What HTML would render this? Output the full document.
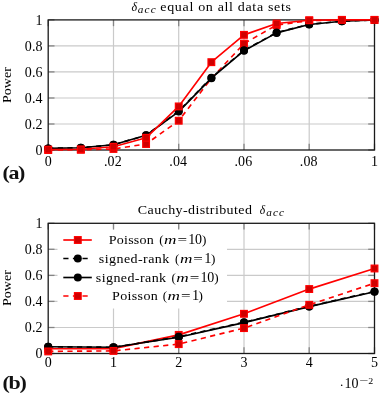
<!DOCTYPE html>
<html><head><meta charset="utf-8"><title>Power plots</title>
<style>
html,body{margin:0;padding:0;background:#fff;}
svg{display:block;}
.t{font-family:"Liberation Serif","DejaVu Serif",serif;font-size:13px;fill:#000;}
.i{font-style:italic;}
.n{font-size:14px;}
.s{font-size:10.4px;}
.e{font-size:9.2px;}
.b{font-family:"Liberation Serif","DejaVu Serif",serif;font-size:18.6px;font-weight:bold;fill:#111;}
</style></head><body>
<svg width="380" height="401" viewBox="0 0 380 401">
<rect width="380" height="401" fill="#fff"/>
<line x1="113.5" y1="19.9" x2="113.5" y2="150.0" stroke="#cacaca" stroke-width="1.2"/><line x1="178.7" y1="19.9" x2="178.7" y2="150.0" stroke="#cacaca" stroke-width="1.2"/><line x1="244.0" y1="19.9" x2="244.0" y2="150.0" stroke="#cacaca" stroke-width="1.2"/><line x1="309.2" y1="19.9" x2="309.2" y2="150.0" stroke="#cacaca" stroke-width="1.2"/><line x1="48.2" y1="124.0" x2="374.5" y2="124.0" stroke="#cacaca" stroke-width="1.2"/><line x1="48.2" y1="98.0" x2="374.5" y2="98.0" stroke="#cacaca" stroke-width="1.2"/><line x1="48.2" y1="71.9" x2="374.5" y2="71.9" stroke="#cacaca" stroke-width="1.2"/><line x1="48.2" y1="45.9" x2="374.5" y2="45.9" stroke="#cacaca" stroke-width="1.2"/>
<line x1="48.2" y1="19.9" x2="48.2" y2="26.2" stroke="#858585" stroke-width="1.3"/><line x1="48.2" y1="150.0" x2="48.2" y2="143.7" stroke="#858585" stroke-width="1.3"/><line x1="113.5" y1="19.9" x2="113.5" y2="26.2" stroke="#858585" stroke-width="1.3"/><line x1="113.5" y1="150.0" x2="113.5" y2="143.7" stroke="#858585" stroke-width="1.3"/><line x1="178.7" y1="19.9" x2="178.7" y2="26.2" stroke="#858585" stroke-width="1.3"/><line x1="178.7" y1="150.0" x2="178.7" y2="143.7" stroke="#858585" stroke-width="1.3"/><line x1="244.0" y1="19.9" x2="244.0" y2="26.2" stroke="#858585" stroke-width="1.3"/><line x1="244.0" y1="150.0" x2="244.0" y2="143.7" stroke="#858585" stroke-width="1.3"/><line x1="309.2" y1="19.9" x2="309.2" y2="26.2" stroke="#858585" stroke-width="1.3"/><line x1="309.2" y1="150.0" x2="309.2" y2="143.7" stroke="#858585" stroke-width="1.3"/><line x1="374.5" y1="19.9" x2="374.5" y2="26.2" stroke="#858585" stroke-width="1.3"/><line x1="374.5" y1="150.0" x2="374.5" y2="143.7" stroke="#858585" stroke-width="1.3"/><line x1="48.2" y1="150.0" x2="54.5" y2="150.0" stroke="#858585" stroke-width="1.3"/><line x1="374.5" y1="150.0" x2="368.2" y2="150.0" stroke="#858585" stroke-width="1.3"/><line x1="48.2" y1="124.0" x2="54.5" y2="124.0" stroke="#858585" stroke-width="1.3"/><line x1="374.5" y1="124.0" x2="368.2" y2="124.0" stroke="#858585" stroke-width="1.3"/><line x1="48.2" y1="98.0" x2="54.5" y2="98.0" stroke="#858585" stroke-width="1.3"/><line x1="374.5" y1="98.0" x2="368.2" y2="98.0" stroke="#858585" stroke-width="1.3"/><line x1="48.2" y1="71.9" x2="54.5" y2="71.9" stroke="#858585" stroke-width="1.3"/><line x1="374.5" y1="71.9" x2="368.2" y2="71.9" stroke="#858585" stroke-width="1.3"/><line x1="48.2" y1="45.9" x2="54.5" y2="45.9" stroke="#858585" stroke-width="1.3"/><line x1="374.5" y1="45.9" x2="368.2" y2="45.9" stroke="#858585" stroke-width="1.3"/><line x1="48.2" y1="19.9" x2="54.5" y2="19.9" stroke="#858585" stroke-width="1.3"/><line x1="374.5" y1="19.9" x2="368.2" y2="19.9" stroke="#858585" stroke-width="1.3"/>
<rect x="48.2" y="19.9" width="326.3" height="130.1" fill="none" stroke="#1a1a1a" stroke-width="1.3"/>
<path d="M48.2,150.0 L80.8,149.7 L113.5,149.0 L146.1,144.0 L178.7,120.7 L211.4,78.4 L244.0,43.6 L276.6,25.1 L309.2,20.6 L341.9,19.9 L374.5,19.9" fill="none" stroke="#ff0000" stroke-width="1.65" stroke-linejoin="round" stroke-dasharray="5.2 4.4"/>
<rect x="44.85" y="146.65" width="6.7" height="6.7" fill="#cf0000" stroke="#ff0000" stroke-width="1.2"/><rect x="77.48" y="146.39" width="6.7" height="6.7" fill="#cf0000" stroke="#ff0000" stroke-width="1.2"/><rect x="110.11" y="145.61" width="6.7" height="6.7" fill="#cf0000" stroke="#ff0000" stroke-width="1.2"/><rect x="142.74" y="140.67" width="6.7" height="6.7" fill="#cf0000" stroke="#ff0000" stroke-width="1.2"/><rect x="175.37" y="117.38" width="6.7" height="6.7" fill="#cf0000" stroke="#ff0000" stroke-width="1.2"/><rect x="240.63" y="40.23" width="6.7" height="6.7" fill="#cf0000" stroke="#ff0000" stroke-width="1.2"/><rect x="273.26" y="21.75" width="6.7" height="6.7" fill="#cf0000" stroke="#ff0000" stroke-width="1.2"/><rect x="305.89" y="17.20" width="6.7" height="6.7" fill="#cf0000" stroke="#ff0000" stroke-width="1.2"/><rect x="338.52" y="16.55" width="6.7" height="6.7" fill="#cf0000" stroke="#ff0000" stroke-width="1.2"/><rect x="371.15" y="16.55" width="6.7" height="6.7" fill="#cf0000" stroke="#ff0000" stroke-width="1.2"/>
<path d="M48.2,148.4 L80.8,147.7 L113.5,144.8 L146.1,135.3 L178.7,111.0 L211.4,77.7 L244.0,50.3 L276.6,32.6 L309.2,24.3 L341.9,21.2 L374.5,19.9" fill="none" stroke="#000000" stroke-width="1.65" stroke-linejoin="round" stroke-dasharray="5.2 4.4"/>
<circle cx="48.2" cy="148.4" r="4.0" fill="#000000"/><circle cx="80.8" cy="147.7" r="4.0" fill="#000000"/><circle cx="113.5" cy="144.8" r="4.0" fill="#000000"/><circle cx="146.1" cy="135.3" r="4.0" fill="#000000"/><circle cx="178.7" cy="111.0" r="4.0" fill="#000000"/><circle cx="211.4" cy="77.7" r="4.0" fill="#000000"/><circle cx="244.0" cy="50.3" r="4.0" fill="#000000"/><circle cx="276.6" cy="32.6" r="4.0" fill="#000000"/><circle cx="309.2" cy="24.3" r="4.0" fill="#000000"/><circle cx="341.9" cy="21.2" r="4.0" fill="#000000"/><circle cx="374.5" cy="19.9" r="4.0" fill="#000000"/>
<path d="M48.2,148.4 L80.8,147.7 L113.5,144.8 L146.1,135.3 L178.7,111.6 L211.4,78.2 L244.0,50.7 L276.6,32.9 L309.2,24.5 L341.9,21.2 L374.5,19.9" fill="none" stroke="#000000" stroke-width="1.65" stroke-linejoin="round"/>
<circle cx="48.2" cy="148.4" r="4.0" fill="#000000"/><circle cx="80.8" cy="147.7" r="4.0" fill="#000000"/><circle cx="113.5" cy="144.8" r="4.0" fill="#000000"/><circle cx="146.1" cy="135.3" r="4.0" fill="#000000"/><circle cx="178.7" cy="111.6" r="4.0" fill="#000000"/><circle cx="211.4" cy="78.2" r="4.0" fill="#000000"/><circle cx="244.0" cy="50.7" r="4.0" fill="#000000"/><circle cx="276.6" cy="32.9" r="4.0" fill="#000000"/><circle cx="309.2" cy="24.5" r="4.0" fill="#000000"/><circle cx="341.9" cy="21.2" r="4.0" fill="#000000"/><circle cx="374.5" cy="19.9" r="4.0" fill="#000000"/>
<path d="M48.2,149.6 L80.8,149.3 L113.5,146.7 L146.1,137.8 L178.7,106.4 L211.4,62.2 L244.0,34.9 L276.6,23.5 L309.2,20.3 L341.9,19.9 L374.5,19.9" fill="none" stroke="#ff0000" stroke-width="1.65" stroke-linejoin="round"/>
<rect x="44.85" y="146.26" width="6.7" height="6.7" fill="#cf0000" stroke="#ff0000" stroke-width="1.2"/><rect x="77.48" y="146.00" width="6.7" height="6.7" fill="#cf0000" stroke="#ff0000" stroke-width="1.2"/><rect x="110.11" y="143.40" width="6.7" height="6.7" fill="#cf0000" stroke="#ff0000" stroke-width="1.2"/><rect x="142.74" y="134.42" width="6.7" height="6.7" fill="#cf0000" stroke="#ff0000" stroke-width="1.2"/><rect x="175.37" y="103.07" width="6.7" height="6.7" fill="#cf0000" stroke="#ff0000" stroke-width="1.2"/><rect x="208.00" y="58.83" width="6.7" height="6.7" fill="#cf0000" stroke="#ff0000" stroke-width="1.2"/><rect x="240.63" y="31.51" width="6.7" height="6.7" fill="#cf0000" stroke="#ff0000" stroke-width="1.2"/><rect x="273.26" y="20.19" width="6.7" height="6.7" fill="#cf0000" stroke="#ff0000" stroke-width="1.2"/><rect x="305.89" y="16.94" width="6.7" height="6.7" fill="#cf0000" stroke="#ff0000" stroke-width="1.2"/><rect x="338.52" y="16.55" width="6.7" height="6.7" fill="#cf0000" stroke="#ff0000" stroke-width="1.2"/><rect x="371.15" y="16.55" width="6.7" height="6.7" fill="#cf0000" stroke="#ff0000" stroke-width="1.2"/>
<text transform="translate(35.6,154.9) scale(1.0,1)" textLength="7.0" lengthAdjust="spacing" class="t n">0</text> <text transform="translate(24.7,128.9) scale(1.0,1)" textLength="17.9" lengthAdjust="spacing" class="t n">0.2</text> <text transform="translate(24.7,102.9) scale(1.0,1)" textLength="17.9" lengthAdjust="spacing" class="t n">0.4</text> <text transform="translate(24.7,76.8) scale(1.0,1)" textLength="17.9" lengthAdjust="spacing" class="t n">0.6</text> <text transform="translate(24.7,50.8) scale(1.0,1)" textLength="17.9" lengthAdjust="spacing" class="t n">0.8</text> <text transform="translate(35.6,24.8) scale(1.0,1)" textLength="7.0" lengthAdjust="spacing" class="t n">1</text> 
<text transform="translate(44.7,166.0) scale(1.0,1)" textLength="7.0" lengthAdjust="spacing" class="t n">0</text> <text transform="translate(103.9,166.0) scale(1.0,1)" textLength="17.9" lengthAdjust="spacing" class="t n">.02</text> <text transform="translate(169.2,166.0) scale(1.0,1)" textLength="17.9" lengthAdjust="spacing" class="t n">.04</text> <text transform="translate(234.4,166.0) scale(1.0,1)" textLength="17.9" lengthAdjust="spacing" class="t n">.06</text> <text transform="translate(299.7,166.0) scale(1.0,1)" textLength="17.9" lengthAdjust="spacing" class="t n">.08</text> <text transform="translate(371.0,166.0) scale(1.0,1)" textLength="7.0" lengthAdjust="spacing" class="t n">1</text> 
<g transform="translate(10.5,85.5) rotate(-90)"><text transform="translate(-17.6,0.0) scale(1.08,1)" textLength="33.3" lengthAdjust="spacing" class="t">Power</text> </g>
<text x="131.4" y="11.2" textLength="5.6" lengthAdjust="spacingAndGlyphs" class="t i">δ</text> <text transform="translate(137.8,13.1) scale(1.08,1)" textLength="16.5" lengthAdjust="spacing" class="t i s">acc</text> <text transform="translate(160.3,11.4) scale(1.08,1)" textLength="121.0" lengthAdjust="spacing" class="t">equal on all data sets</text> 
<text transform="translate(2.6,178.7) scale(1.18,1)" textLength="19.3" lengthAdjust="spacing" class="b">(a)</text> 
<line x1="113.5" y1="223.3" x2="113.5" y2="353.5" stroke="#cacaca" stroke-width="1.2"/><line x1="178.7" y1="223.3" x2="178.7" y2="353.5" stroke="#cacaca" stroke-width="1.2"/><line x1="244.0" y1="223.3" x2="244.0" y2="353.5" stroke="#cacaca" stroke-width="1.2"/><line x1="309.2" y1="223.3" x2="309.2" y2="353.5" stroke="#cacaca" stroke-width="1.2"/><line x1="48.2" y1="327.5" x2="374.5" y2="327.5" stroke="#cacaca" stroke-width="1.2"/><line x1="48.2" y1="301.4" x2="374.5" y2="301.4" stroke="#cacaca" stroke-width="1.2"/><line x1="48.2" y1="275.4" x2="374.5" y2="275.4" stroke="#cacaca" stroke-width="1.2"/><line x1="48.2" y1="249.3" x2="374.5" y2="249.3" stroke="#cacaca" stroke-width="1.2"/>
<rect x="57.5" y="228.5" width="169.5" height="80" fill="#fff"/>
<line x1="48.2" y1="223.3" x2="48.2" y2="229.60000000000002" stroke="#858585" stroke-width="1.3"/><line x1="48.2" y1="353.5" x2="48.2" y2="347.2" stroke="#858585" stroke-width="1.3"/><line x1="113.5" y1="223.3" x2="113.5" y2="229.60000000000002" stroke="#858585" stroke-width="1.3"/><line x1="113.5" y1="353.5" x2="113.5" y2="347.2" stroke="#858585" stroke-width="1.3"/><line x1="178.7" y1="223.3" x2="178.7" y2="229.60000000000002" stroke="#858585" stroke-width="1.3"/><line x1="178.7" y1="353.5" x2="178.7" y2="347.2" stroke="#858585" stroke-width="1.3"/><line x1="244.0" y1="223.3" x2="244.0" y2="229.60000000000002" stroke="#858585" stroke-width="1.3"/><line x1="244.0" y1="353.5" x2="244.0" y2="347.2" stroke="#858585" stroke-width="1.3"/><line x1="309.2" y1="223.3" x2="309.2" y2="229.60000000000002" stroke="#858585" stroke-width="1.3"/><line x1="309.2" y1="353.5" x2="309.2" y2="347.2" stroke="#858585" stroke-width="1.3"/><line x1="374.5" y1="223.3" x2="374.5" y2="229.60000000000002" stroke="#858585" stroke-width="1.3"/><line x1="374.5" y1="353.5" x2="374.5" y2="347.2" stroke="#858585" stroke-width="1.3"/><line x1="48.2" y1="353.5" x2="54.5" y2="353.5" stroke="#858585" stroke-width="1.3"/><line x1="374.5" y1="353.5" x2="368.2" y2="353.5" stroke="#858585" stroke-width="1.3"/><line x1="48.2" y1="327.5" x2="54.5" y2="327.5" stroke="#858585" stroke-width="1.3"/><line x1="374.5" y1="327.5" x2="368.2" y2="327.5" stroke="#858585" stroke-width="1.3"/><line x1="48.2" y1="301.4" x2="54.5" y2="301.4" stroke="#858585" stroke-width="1.3"/><line x1="374.5" y1="301.4" x2="368.2" y2="301.4" stroke="#858585" stroke-width="1.3"/><line x1="48.2" y1="275.4" x2="54.5" y2="275.4" stroke="#858585" stroke-width="1.3"/><line x1="374.5" y1="275.4" x2="368.2" y2="275.4" stroke="#858585" stroke-width="1.3"/><line x1="48.2" y1="249.3" x2="54.5" y2="249.3" stroke="#858585" stroke-width="1.3"/><line x1="374.5" y1="249.3" x2="368.2" y2="249.3" stroke="#858585" stroke-width="1.3"/><line x1="48.2" y1="223.3" x2="54.5" y2="223.3" stroke="#858585" stroke-width="1.3"/><line x1="374.5" y1="223.3" x2="368.2" y2="223.3" stroke="#858585" stroke-width="1.3"/>
<rect x="48.2" y="223.3" width="326.3" height="130.2" fill="none" stroke="#1a1a1a" stroke-width="1.3"/>
<path d="M48.2,348.8 L113.5,348.6 L178.7,334.9 L244.0,313.8 L309.2,289.1 L374.5,268.5" fill="none" stroke="#ff0000" stroke-width="1.65" stroke-linejoin="round"/>
<rect x="44.85" y="345.46" width="6.7" height="6.7" fill="#cf0000" stroke="#ff0000" stroke-width="1.2"/><rect x="110.11" y="345.20" width="6.7" height="6.7" fill="#cf0000" stroke="#ff0000" stroke-width="1.2"/><rect x="175.37" y="331.53" width="6.7" height="6.7" fill="#cf0000" stroke="#ff0000" stroke-width="1.2"/><rect x="240.63" y="310.44" width="6.7" height="6.7" fill="#cf0000" stroke="#ff0000" stroke-width="1.2"/><rect x="305.89" y="285.70" width="6.7" height="6.7" fill="#cf0000" stroke="#ff0000" stroke-width="1.2"/><rect x="371.15" y="265.13" width="6.7" height="6.7" fill="#cf0000" stroke="#ff0000" stroke-width="1.2"/>
<path d="M48.2,346.7 L113.5,347.3 L178.7,336.8 L244.0,322.3 L309.2,306.4 L374.5,291.4" fill="none" stroke="#000000" stroke-width="1.65" stroke-linejoin="round" stroke-dasharray="5.2 4.4"/>
<circle cx="48.2" cy="346.7" r="4.0" fill="#000000"/><circle cx="113.5" cy="347.3" r="4.0" fill="#000000"/><circle cx="178.7" cy="336.8" r="4.0" fill="#000000"/><circle cx="244.0" cy="322.3" r="4.0" fill="#000000"/><circle cx="309.2" cy="306.4" r="4.0" fill="#000000"/><circle cx="374.5" cy="291.4" r="4.0" fill="#000000"/>
<path d="M48.2,346.7 L113.5,347.3 L178.7,337.2 L244.0,322.6 L309.2,306.6 L374.5,291.7" fill="none" stroke="#000000" stroke-width="1.65" stroke-linejoin="round"/>
<circle cx="48.2" cy="346.7" r="4.0" fill="#000000"/><circle cx="113.5" cy="347.3" r="4.0" fill="#000000"/><circle cx="178.7" cy="337.2" r="4.0" fill="#000000"/><circle cx="244.0" cy="322.6" r="4.0" fill="#000000"/><circle cx="309.2" cy="306.6" r="4.0" fill="#000000"/><circle cx="374.5" cy="291.7" r="4.0" fill="#000000"/>
<path d="M48.2,351.4 L113.5,350.9 L178.7,344.1 L244.0,328.1 L309.2,304.8 L374.5,283.2" fill="none" stroke="#ff0000" stroke-width="1.65" stroke-linejoin="round" stroke-dasharray="5.2 4.4"/>
<rect x="44.85" y="348.07" width="6.7" height="6.7" fill="#cf0000" stroke="#ff0000" stroke-width="1.2"/><rect x="110.11" y="347.55" width="6.7" height="6.7" fill="#cf0000" stroke="#ff0000" stroke-width="1.2"/><rect x="175.37" y="340.78" width="6.7" height="6.7" fill="#cf0000" stroke="#ff0000" stroke-width="1.2"/><rect x="240.63" y="324.76" width="6.7" height="6.7" fill="#cf0000" stroke="#ff0000" stroke-width="1.2"/><rect x="305.89" y="301.46" width="6.7" height="6.7" fill="#cf0000" stroke="#ff0000" stroke-width="1.2"/><rect x="371.15" y="279.84" width="6.7" height="6.7" fill="#cf0000" stroke="#ff0000" stroke-width="1.2"/>
<text transform="translate(35.6,358.4) scale(1.0,1)" textLength="7.0" lengthAdjust="spacing" class="t n">0</text> <text transform="translate(24.7,332.4) scale(1.0,1)" textLength="17.9" lengthAdjust="spacing" class="t n">0.2</text> <text transform="translate(24.7,306.3) scale(1.0,1)" textLength="17.9" lengthAdjust="spacing" class="t n">0.4</text> <text transform="translate(24.7,280.3) scale(1.0,1)" textLength="17.9" lengthAdjust="spacing" class="t n">0.6</text> <text transform="translate(24.7,254.2) scale(1.0,1)" textLength="17.9" lengthAdjust="spacing" class="t n">0.8</text> <text transform="translate(35.6,228.2) scale(1.0,1)" textLength="7.0" lengthAdjust="spacing" class="t n">1</text> 
<text transform="translate(44.7,367.0) scale(1.0,1)" textLength="7.0" lengthAdjust="spacing" class="t n">0</text> <text transform="translate(110.0,367.0) scale(1.0,1)" textLength="7.0" lengthAdjust="spacing" class="t n">1</text> <text transform="translate(175.2,367.0) scale(1.0,1)" textLength="7.0" lengthAdjust="spacing" class="t n">2</text> <text transform="translate(240.5,367.0) scale(1.0,1)" textLength="7.0" lengthAdjust="spacing" class="t n">3</text> <text transform="translate(305.7,367.0) scale(1.0,1)" textLength="7.0" lengthAdjust="spacing" class="t n">4</text> <text transform="translate(371.0,367.0) scale(1.0,1)" textLength="7.0" lengthAdjust="spacing" class="t n">5</text> 
<g transform="translate(10.5,288.4) rotate(-90)"><text transform="translate(-17.6,0.0) scale(1.08,1)" textLength="33.3" lengthAdjust="spacing" class="t">Power</text> </g>
<text transform="translate(137.8,213.8) scale(1.08,1)" textLength="105.7" lengthAdjust="spacing" class="t">Cauchy-distributed</text> <text x="259.8" y="214.0" textLength="5.4" lengthAdjust="spacingAndGlyphs" class="t i">δ</text> <text transform="translate(266.2,215.6) scale(1.08,1)" textLength="16.6" lengthAdjust="spacing" class="t i s">acc</text> 
<text transform="translate(2.6,388.9) scale(1.18,1)" textLength="20.5" lengthAdjust="spacing" class="b">(b)</text> 
<text x="339.6" y="389.3" textLength="4.4" lengthAdjust="spacingAndGlyphs" class="t">·</text> <text transform="translate(344.4,388.2) scale(1.0,1)" textLength="14.0" lengthAdjust="spacing" class="t n">10</text> <text x="359.0" y="384.4" textLength="9.0" lengthAdjust="spacingAndGlyphs" class="t e">−</text> <text transform="translate(368.2,384.2) scale(1.08,1)" textLength="4.9" lengthAdjust="spacing" class="t e">2</text> 
<line x1="63.3" y1="240" x2="91.8" y2="240" stroke="#ff0000" stroke-width="1.65"/><rect x="74.45" y="236.65" width="6.7" height="6.7" fill="#cf0000" stroke="#ff0000" stroke-width="1.2"/><text transform="translate(108.7,244.2) scale(1.08,1)" textLength="41.8" lengthAdjust="spacing" class="t">Poisson</text> <text x="159.2" y="244.2" textLength="4.3" lengthAdjust="spacingAndGlyphs" class="t">(</text> <text x="164.1" y="244.2" textLength="12.4" lengthAdjust="spacingAndGlyphs" class="t i">m</text> <text x="177.5" y="244.2" textLength="9.6" lengthAdjust="spacingAndGlyphs" class="t">=</text> <text transform="translate(188.3,244.2) scale(1.0,1)" textLength="13.8" lengthAdjust="spacing" class="t n">10</text> <text x="202.1" y="244.2" textLength="4.4" lengthAdjust="spacingAndGlyphs" class="t">)</text> 
<line x1="63.3" y1="258.5" x2="91.8" y2="258.5" stroke="#000000" stroke-width="1.65" stroke-dasharray="5.2 4.4"/><circle cx="77.8" cy="258.5" r="4.0" fill="#000000"/><text transform="translate(98.8,262.7) scale(1.08,1)" textLength="65.3" lengthAdjust="spacing" class="t">signed-rank</text> <text x="175.0" y="262.7" textLength="4.3" lengthAdjust="spacingAndGlyphs" class="t">(</text> <text x="179.9" y="262.7" textLength="12.4" lengthAdjust="spacingAndGlyphs" class="t i">m</text> <text x="193.3" y="262.7" textLength="9.6" lengthAdjust="spacingAndGlyphs" class="t">=</text> <text x="204.2" y="262.7" textLength="7.2" lengthAdjust="spacingAndGlyphs" class="t n">1</text> <text x="210.9" y="262.7" textLength="4.4" lengthAdjust="spacingAndGlyphs" class="t">)</text> 
<line x1="63.3" y1="277.5" x2="91.8" y2="277.5" stroke="#000000" stroke-width="1.65"/><circle cx="77.8" cy="277.5" r="4.0" fill="#000000"/><text transform="translate(95.8,281.7) scale(1.08,1)" textLength="65.1" lengthAdjust="spacing" class="t">signed-rank</text> <text x="171.4" y="281.7" textLength="4.3" lengthAdjust="spacingAndGlyphs" class="t">(</text> <text x="176.3" y="281.7" textLength="12.4" lengthAdjust="spacingAndGlyphs" class="t i">m</text> <text x="189.7" y="281.7" textLength="9.6" lengthAdjust="spacingAndGlyphs" class="t">=</text> <text transform="translate(200.5,281.7) scale(1.0,1)" textLength="13.8" lengthAdjust="spacing" class="t n">10</text> <text x="214.3" y="281.7" textLength="4.4" lengthAdjust="spacingAndGlyphs" class="t">)</text> 
<line x1="63.3" y1="296" x2="91.8" y2="296" stroke="#ff0000" stroke-width="1.65" stroke-dasharray="5.2 4.4"/><rect x="74.45" y="292.65" width="6.7" height="6.7" fill="#cf0000" stroke="#ff0000" stroke-width="1.2"/><text transform="translate(112.1,300.2) scale(1.08,1)" textLength="42.3" lengthAdjust="spacing" class="t">Poisson</text> <text x="162.7" y="300.2" textLength="4.3" lengthAdjust="spacingAndGlyphs" class="t">(</text> <text x="167.6" y="300.2" textLength="12.4" lengthAdjust="spacingAndGlyphs" class="t i">m</text> <text x="181.0" y="300.2" textLength="9.6" lengthAdjust="spacingAndGlyphs" class="t">=</text> <text x="191.9" y="300.2" textLength="7.2" lengthAdjust="spacingAndGlyphs" class="t n">1</text> <text x="198.6" y="300.2" textLength="4.4" lengthAdjust="spacingAndGlyphs" class="t">)</text> 
</svg>
</body></html>
